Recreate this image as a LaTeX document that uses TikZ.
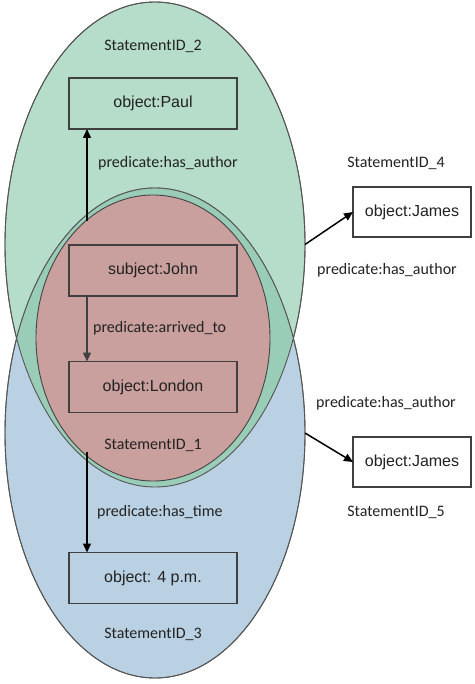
\documentclass[tikz,border=0pt]{standalone}
\usepackage{fontspec}
\setmainfont{Carlito}
\newfontfamily\arialfont{Liberation Sans}
\usetikzlibrary{shapes.geometric,arrows.meta}
\definecolor{grn}{HTML}{B6DDC9}
\definecolor{tea}{HTML}{99CDB8}
\definecolor{blu}{HTML}{BAD1E3}
\definecolor{pnk}{HTML}{C9A09E}
\definecolor{edge}{HTML}{555555}
\definecolor{boxedge}{HTML}{404040}
\definecolor{txt}{HTML}{222222}
\tikzset{
  oval/.style={ellipse, draw=edge, line width=0.9pt, inner sep=0pt, outer sep=0pt},
  box/.style={rectangle, draw=boxedge, line width=1.2pt, minimum width=168pt, minimum height=51pt, inner sep=0pt, outer sep=0pt, font=\arialfont\fontsize{16}{19}\selectfont, text=txt},
  wbox/.style={box, fill=white, minimum width=118pt, minimum height=50pt},
  lbl/.style={font=\fontsize{16}{19}\selectfont, text=txt, inner sep=0pt},
  blk/.style={draw=black, line width=1.5pt, -{Triangle[length=9pt,width=8pt]}},
  gry/.style={draw=boxedge, line width=1.2pt, -{Triangle[length=9pt,width=8pt]}}
}
\begin{document}
\begin{tikzpicture}[x=1pt,y=-1pt]
\useasboundingbox (0,0) rectangle (474,684);
% ellipses
\node[oval, fill=grn, minimum width=300pt, minimum height=485pt] (green) at (155,244.5) {};
\node[oval, fill=blu, minimum width=300pt, minimum height=490pt] (blue) at (155,433) {};
\begin{scope}
  \path[clip] (155,244.5) ellipse [x radius=150pt, y radius=242.5pt];
  \fill[tea] (155,433) ellipse [x radius=150pt, y radius=245pt];
\end{scope}
\draw[edge, line width=0.9pt] (155,244.5) ellipse [x radius=150pt, y radius=242.5pt];
\draw[edge, line width=0.9pt] (155,433) ellipse [x radius=150pt, y radius=245pt];
\node[oval, fill=pnk, draw=edge!80!black, minimum width=234pt, minimum height=286pt] (pink) at (153,338) {};
% boxes
\node[box] (paul) at (153,103.5) {object:Paul};
\node[box] (john) at (153,270.5) {subject:John};
\node[box] (london) at (153,387) {object:London};
\node[box] (pm) at (153,578) {object: 4 p.m.};
\node[wbox] (james1) at (412,212) {object:James};
\node[wbox] (james2) at (412,462) {object:James};
% connectors
\coordinate (c1) at (87,221);
\coordinate (c2) at (87,452);
\draw[blk] (c1) -- (c1 |- paul.south);
\draw[gry] (john.south -| c1) -- (london.north -| c1);
\draw[blk] (c2) -- (c2 |- pm.north);
\draw[blk] (green.east) -- (james1.west);
\draw[blk] (blue.east) -- (james2.west);
% labels
\node[lbl] (sid2) at (153,46) {StatementID\_2};
\node[lbl, anchor=west] (ha1) at (98,163) {predicate:has\_author};
\node[lbl, anchor=west] (arr) at (93,328) {predicate:arrived\_to};
\node[lbl] (sid1) at (153,445) {StatementID\_1};
\node[lbl, anchor=west] (ht) at (97,512) {predicate:has\_time};
\node[lbl] (sid3) at (153,634) {StatementID\_3};
\node[lbl] (sid4) at (396,163) {StatementID\_4};
\node[lbl] (ha2) at (387,270) {predicate:has\_author};
\node[lbl] (ha3) at (386,403) {predicate:has\_author};
\node[lbl] (sid5) at (396,512) {StatementID\_5};
\end{tikzpicture}
\end{document}
